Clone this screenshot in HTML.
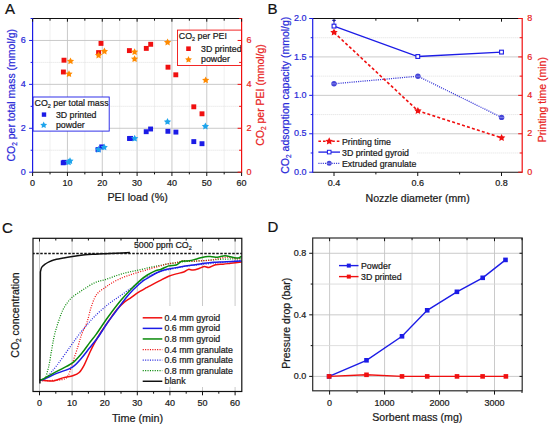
<!DOCTYPE html>
<html><head><meta charset="utf-8"><style>
html,body{margin:0;padding:0;background:#fff;}
svg{display:block;font-family:"Liberation Sans", sans-serif;}
</style></head><body>
<svg width="550" height="427" viewBox="0 0 550 427" font-family='"Liberation Sans", sans-serif'>
<rect width="550" height="427" fill="#fff"/>
<line x1="50.02" y1="18.50" x2="50.02" y2="172.20" stroke="#dcdcdc" stroke-width="0.9" stroke-dasharray="1 1"/>
<line x1="67.43" y1="18.50" x2="67.43" y2="172.20" stroke="#c4c4c4" stroke-width="0.9" />
<line x1="84.85" y1="18.50" x2="84.85" y2="172.20" stroke="#dcdcdc" stroke-width="0.9" stroke-dasharray="1 1"/>
<line x1="102.27" y1="18.50" x2="102.27" y2="172.20" stroke="#c4c4c4" stroke-width="0.9" />
<line x1="119.68" y1="18.50" x2="119.68" y2="172.20" stroke="#dcdcdc" stroke-width="0.9" stroke-dasharray="1 1"/>
<line x1="137.10" y1="18.50" x2="137.10" y2="172.20" stroke="#c4c4c4" stroke-width="0.9" />
<line x1="154.52" y1="18.50" x2="154.52" y2="172.20" stroke="#dcdcdc" stroke-width="0.9" stroke-dasharray="1 1"/>
<line x1="171.93" y1="18.50" x2="171.93" y2="172.20" stroke="#c4c4c4" stroke-width="0.9" />
<line x1="189.35" y1="18.50" x2="189.35" y2="172.20" stroke="#dcdcdc" stroke-width="0.9" stroke-dasharray="1 1"/>
<line x1="206.77" y1="18.50" x2="206.77" y2="172.20" stroke="#c4c4c4" stroke-width="0.9" />
<line x1="224.18" y1="18.50" x2="224.18" y2="172.20" stroke="#dcdcdc" stroke-width="0.9" stroke-dasharray="1 1"/>
<line x1="32.60" y1="150.24" x2="241.60" y2="150.24" stroke="#dcdcdc" stroke-width="0.9" stroke-dasharray="1 1"/>
<line x1="32.60" y1="128.29" x2="241.60" y2="128.29" stroke="#c4c4c4" stroke-width="0.9" />
<line x1="32.60" y1="106.33" x2="241.60" y2="106.33" stroke="#dcdcdc" stroke-width="0.9" stroke-dasharray="1 1"/>
<line x1="32.60" y1="84.37" x2="241.60" y2="84.37" stroke="#c4c4c4" stroke-width="0.9" />
<line x1="32.60" y1="62.41" x2="241.60" y2="62.41" stroke="#dcdcdc" stroke-width="0.9" stroke-dasharray="1 1"/>
<line x1="32.60" y1="40.46" x2="241.60" y2="40.46" stroke="#c4c4c4" stroke-width="0.9" />
<rect x="61.55" y="57.75" width="4.90" height="4.90" fill="#f01010"/>
<rect x="60.95" y="69.55" width="4.90" height="4.90" fill="#f01010"/>
<rect x="98.55" y="40.95" width="4.90" height="4.90" fill="#f01010"/>
<rect x="96.15" y="50.15" width="4.90" height="4.90" fill="#f01010"/>
<rect x="126.95" y="48.15" width="4.90" height="4.90" fill="#f01010"/>
<rect x="143.85" y="45.95" width="4.90" height="4.90" fill="#f01010"/>
<rect x="148.25" y="41.85" width="4.90" height="4.90" fill="#f01010"/>
<rect x="165.55" y="64.75" width="4.90" height="4.90" fill="#f01010"/>
<rect x="173.35" y="72.35" width="4.90" height="4.90" fill="#f01010"/>
<rect x="191.35" y="104.35" width="4.90" height="4.90" fill="#f01010"/>
<rect x="199.55" y="111.35" width="4.90" height="4.90" fill="#f01010"/>
<polygon points="70.50,57.40 71.62,59.66 74.11,60.03 72.31,61.79 72.73,64.27 70.50,63.10 68.27,64.27 68.69,61.79 66.89,60.03 69.38,59.66" fill="#ff8a00"/>
<polygon points="69.00,70.20 70.12,72.46 72.61,72.83 70.81,74.59 71.23,77.07 69.00,75.90 66.77,77.07 67.19,74.59 65.39,72.83 67.88,72.46" fill="#ff8a00"/>
<polygon points="104.40,47.60 105.52,49.86 108.01,50.23 106.21,51.99 106.63,54.47 104.40,53.30 102.17,54.47 102.59,51.99 100.79,50.23 103.28,49.86" fill="#ff8a00"/>
<polygon points="98.60,51.60 99.72,53.86 102.21,54.23 100.41,55.99 100.83,58.47 98.60,57.30 96.37,58.47 96.79,55.99 94.99,54.23 97.48,53.86" fill="#ff8a00"/>
<polygon points="134.60,48.20 135.72,50.46 138.21,50.83 136.41,52.59 136.83,55.07 134.60,53.90 132.37,55.07 132.79,52.59 130.99,50.83 133.48,50.46" fill="#ff8a00"/>
<polygon points="134.60,55.20 135.72,57.46 138.21,57.83 136.41,59.59 136.83,62.07 134.60,60.90 132.37,62.07 132.79,59.59 130.99,57.83 133.48,57.46" fill="#ff8a00"/>
<polygon points="167.60,38.60 168.72,40.86 171.21,41.23 169.41,42.99 169.83,45.47 167.60,44.30 165.37,45.47 165.79,42.99 163.99,41.23 166.48,40.86" fill="#ff8a00"/>
<polygon points="205.70,76.40 206.82,78.66 209.31,79.03 207.51,80.79 207.93,83.27 205.70,82.10 203.47,83.27 203.89,80.79 202.09,79.03 204.58,78.66" fill="#ff8a00"/>
<rect x="60.75" y="160.35" width="4.90" height="4.90" fill="#1c1ce6"/>
<rect x="61.75" y="159.85" width="4.90" height="4.90" fill="#1c1ce6"/>
<rect x="95.55" y="147.15" width="4.90" height="4.90" fill="#1c1ce6"/>
<rect x="99.25" y="144.45" width="4.90" height="4.90" fill="#1c1ce6"/>
<rect x="127.05" y="136.05" width="4.90" height="4.90" fill="#1c1ce6"/>
<rect x="128.15" y="135.95" width="4.90" height="4.90" fill="#1c1ce6"/>
<rect x="143.75" y="129.25" width="4.90" height="4.90" fill="#1c1ce6"/>
<rect x="148.15" y="126.55" width="4.90" height="4.90" fill="#1c1ce6"/>
<rect x="165.45" y="128.85" width="4.90" height="4.90" fill="#1c1ce6"/>
<rect x="173.45" y="129.65" width="4.90" height="4.90" fill="#1c1ce6"/>
<rect x="191.35" y="139.15" width="4.90" height="4.90" fill="#1c1ce6"/>
<rect x="199.55" y="141.25" width="4.90" height="4.90" fill="#1c1ce6"/>
<polygon points="70.00,157.20 71.12,159.46 73.61,159.83 71.81,161.59 72.23,164.07 70.00,162.90 67.77,164.07 68.19,161.59 66.39,159.83 68.88,159.46" fill="#1ea4ec"/>
<polygon points="68.60,158.50 69.72,160.76 72.21,161.13 70.41,162.89 70.83,165.37 68.60,164.20 66.37,165.37 66.79,162.89 64.99,161.13 67.48,160.76" fill="#1ea4ec"/>
<polygon points="98.50,145.80 99.62,148.06 102.11,148.43 100.31,150.19 100.73,152.67 98.50,151.50 96.27,152.67 96.69,150.19 94.89,148.43 97.38,148.06" fill="#1ea4ec"/>
<polygon points="104.20,143.50 105.32,145.76 107.81,146.13 106.01,147.89 106.43,150.37 104.20,149.20 101.97,150.37 102.39,147.89 100.59,146.13 103.08,145.76" fill="#1ea4ec"/>
<polygon points="134.70,134.70 135.82,136.96 138.31,137.33 136.51,139.09 136.93,141.57 134.70,140.40 132.47,141.57 132.89,139.09 131.09,137.33 133.58,136.96" fill="#1ea4ec"/>
<polygon points="167.50,118.00 168.62,120.26 171.11,120.63 169.31,122.39 169.73,124.87 167.50,123.70 165.27,124.87 165.69,122.39 163.89,120.63 166.38,120.26" fill="#1ea4ec"/>
<polygon points="205.40,122.60 206.52,124.86 209.01,125.23 207.21,126.99 207.63,129.47 205.40,128.30 203.17,129.47 203.59,126.99 201.79,125.23 204.28,124.86" fill="#1ea4ec"/>
<rect x="33" y="97" width="76.2" height="34.1" fill="#fff" stroke="#1c1ce6" stroke-width="0.9"/>
<text x="34.60" y="105.80" font-size="8.8" fill="#1a1a1a" stroke="#1a1a1a" stroke-width="0.22" text-anchor="start">CO<tspan font-size="5.46" dy="1.76">2</tspan><tspan dy="-1.76"> per total mass</tspan></text>
<rect x="41.80" y="112.40" width="4.40" height="4.40" fill="#1c1ce6"/>
<text x="55.90" y="118.00" font-size="8.8" fill="#1a1a1a" stroke="#1a1a1a" stroke-width="0.22" text-anchor="start" >3D printed</text>
<polygon points="43.70,121.60 44.76,123.74 47.12,124.09 45.41,125.76 45.82,128.11 43.70,127.00 41.58,128.11 41.99,125.76 40.28,124.09 42.64,123.74" fill="#1ea4ec"/>
<text x="55.90" y="128.20" font-size="8.8" fill="#1a1a1a" stroke="#1a1a1a" stroke-width="0.22" text-anchor="start" >powder</text>
<rect x="177.5" y="30.1" width="64.1" height="35.4" fill="#fff" stroke="#f01010" stroke-width="0.9"/>
<text x="178.80" y="39.00" font-size="8.8" fill="#1a1a1a" stroke="#1a1a1a" stroke-width="0.22" text-anchor="start">CO<tspan font-size="5.46" dy="1.76">2</tspan><tspan dy="-1.76"> per PEI</tspan></text>
<rect x="186.20" y="46.40" width="4.60" height="4.60" fill="#f01010"/>
<text x="201.00" y="51.50" font-size="8.8" fill="#1a1a1a" stroke="#1a1a1a" stroke-width="0.22" text-anchor="start" >3D printed</text>
<polygon points="188.50,56.00 189.56,58.14 191.92,58.49 190.21,60.16 190.62,62.51 188.50,61.40 186.38,62.51 186.79,60.16 185.08,58.49 187.44,58.14" fill="#ff8a00"/>
<text x="201.00" y="61.90" font-size="8.8" fill="#1a1a1a" stroke="#1a1a1a" stroke-width="0.22" text-anchor="start" >powder</text>
<line x1="32.60" y1="18.50" x2="241.60" y2="18.50" stroke="#111" stroke-width="1.1" />
<line x1="32.60" y1="172.20" x2="241.60" y2="172.20" stroke="#111" stroke-width="1.1" />
<line x1="32.60" y1="18.00" x2="32.60" y2="172.70" stroke="#1c1ce6" stroke-width="1.2" />
<line x1="241.60" y1="18.00" x2="241.60" y2="172.70" stroke="#f01010" stroke-width="1.2" />
<line x1="32.60" y1="172.20" x2="32.60" y2="176.00" stroke="#111" stroke-width="1" />
<line x1="32.60" y1="18.50" x2="32.60" y2="21.70" stroke="#111" stroke-width="1" />
<text x="32.60" y="186.00" font-size="9" fill="#1a1a1a" stroke="#1a1a1a" stroke-width="0.22" text-anchor="middle" >0</text>
<line x1="50.02" y1="172.20" x2="50.02" y2="174.40" stroke="#111" stroke-width="1" />
<line x1="50.02" y1="18.50" x2="50.02" y2="20.70" stroke="#111" stroke-width="1" />
<line x1="67.43" y1="172.20" x2="67.43" y2="176.00" stroke="#111" stroke-width="1" />
<line x1="67.43" y1="18.50" x2="67.43" y2="21.70" stroke="#111" stroke-width="1" />
<text x="67.43" y="186.00" font-size="9" fill="#1a1a1a" stroke="#1a1a1a" stroke-width="0.22" text-anchor="middle" >10</text>
<line x1="84.85" y1="172.20" x2="84.85" y2="174.40" stroke="#111" stroke-width="1" />
<line x1="84.85" y1="18.50" x2="84.85" y2="20.70" stroke="#111" stroke-width="1" />
<line x1="102.27" y1="172.20" x2="102.27" y2="176.00" stroke="#111" stroke-width="1" />
<line x1="102.27" y1="18.50" x2="102.27" y2="21.70" stroke="#111" stroke-width="1" />
<text x="102.27" y="186.00" font-size="9" fill="#1a1a1a" stroke="#1a1a1a" stroke-width="0.22" text-anchor="middle" >20</text>
<line x1="119.68" y1="172.20" x2="119.68" y2="174.40" stroke="#111" stroke-width="1" />
<line x1="119.68" y1="18.50" x2="119.68" y2="20.70" stroke="#111" stroke-width="1" />
<line x1="137.10" y1="172.20" x2="137.10" y2="176.00" stroke="#111" stroke-width="1" />
<line x1="137.10" y1="18.50" x2="137.10" y2="21.70" stroke="#111" stroke-width="1" />
<text x="137.10" y="186.00" font-size="9" fill="#1a1a1a" stroke="#1a1a1a" stroke-width="0.22" text-anchor="middle" >30</text>
<line x1="154.52" y1="172.20" x2="154.52" y2="174.40" stroke="#111" stroke-width="1" />
<line x1="154.52" y1="18.50" x2="154.52" y2="20.70" stroke="#111" stroke-width="1" />
<line x1="171.93" y1="172.20" x2="171.93" y2="176.00" stroke="#111" stroke-width="1" />
<line x1="171.93" y1="18.50" x2="171.93" y2="21.70" stroke="#111" stroke-width="1" />
<text x="171.93" y="186.00" font-size="9" fill="#1a1a1a" stroke="#1a1a1a" stroke-width="0.22" text-anchor="middle" >40</text>
<line x1="189.35" y1="172.20" x2="189.35" y2="174.40" stroke="#111" stroke-width="1" />
<line x1="189.35" y1="18.50" x2="189.35" y2="20.70" stroke="#111" stroke-width="1" />
<line x1="206.77" y1="172.20" x2="206.77" y2="176.00" stroke="#111" stroke-width="1" />
<line x1="206.77" y1="18.50" x2="206.77" y2="21.70" stroke="#111" stroke-width="1" />
<text x="206.77" y="186.00" font-size="9" fill="#1a1a1a" stroke="#1a1a1a" stroke-width="0.22" text-anchor="middle" >50</text>
<line x1="224.18" y1="172.20" x2="224.18" y2="174.40" stroke="#111" stroke-width="1" />
<line x1="224.18" y1="18.50" x2="224.18" y2="20.70" stroke="#111" stroke-width="1" />
<line x1="241.60" y1="172.20" x2="241.60" y2="176.00" stroke="#111" stroke-width="1" />
<line x1="241.60" y1="18.50" x2="241.60" y2="21.70" stroke="#111" stroke-width="1" />
<text x="241.60" y="186.00" font-size="9" fill="#1a1a1a" stroke="#1a1a1a" stroke-width="0.22" text-anchor="middle" >60</text>
<line x1="29.10" y1="172.20" x2="32.60" y2="172.20" stroke="#1c1ce6" stroke-width="1" />
<line x1="237.60" y1="172.20" x2="241.60" y2="172.20" stroke="#f01010" stroke-width="1" />
<text x="25.80" y="174.90" font-size="9" fill="#2a2ad8" stroke="#2a2ad8" stroke-width="0.22" text-anchor="end" >0</text>
<text x="246.60" y="174.90" font-size="9" fill="#e82222" stroke="#e82222" stroke-width="0.22" text-anchor="start" >0</text>
<line x1="30.60" y1="150.24" x2="32.60" y2="150.24" stroke="#1c1ce6" stroke-width="1" />
<line x1="239.10" y1="150.24" x2="241.60" y2="150.24" stroke="#f01010" stroke-width="1" />
<line x1="29.10" y1="128.29" x2="32.60" y2="128.29" stroke="#1c1ce6" stroke-width="1" />
<line x1="237.60" y1="128.29" x2="241.60" y2="128.29" stroke="#f01010" stroke-width="1" />
<text x="25.80" y="130.99" font-size="9" fill="#2a2ad8" stroke="#2a2ad8" stroke-width="0.22" text-anchor="end" >2</text>
<text x="246.60" y="130.99" font-size="9" fill="#e82222" stroke="#e82222" stroke-width="0.22" text-anchor="start" >2</text>
<line x1="30.60" y1="106.33" x2="32.60" y2="106.33" stroke="#1c1ce6" stroke-width="1" />
<line x1="239.10" y1="106.33" x2="241.60" y2="106.33" stroke="#f01010" stroke-width="1" />
<line x1="29.10" y1="84.37" x2="32.60" y2="84.37" stroke="#1c1ce6" stroke-width="1" />
<line x1="237.60" y1="84.37" x2="241.60" y2="84.37" stroke="#f01010" stroke-width="1" />
<text x="25.80" y="87.07" font-size="9" fill="#2a2ad8" stroke="#2a2ad8" stroke-width="0.22" text-anchor="end" >4</text>
<text x="246.60" y="87.07" font-size="9" fill="#e82222" stroke="#e82222" stroke-width="0.22" text-anchor="start" >4</text>
<line x1="30.60" y1="62.41" x2="32.60" y2="62.41" stroke="#1c1ce6" stroke-width="1" />
<line x1="239.10" y1="62.41" x2="241.60" y2="62.41" stroke="#f01010" stroke-width="1" />
<line x1="29.10" y1="40.46" x2="32.60" y2="40.46" stroke="#1c1ce6" stroke-width="1" />
<line x1="237.60" y1="40.46" x2="241.60" y2="40.46" stroke="#f01010" stroke-width="1" />
<text x="25.80" y="43.16" font-size="9" fill="#2a2ad8" stroke="#2a2ad8" stroke-width="0.22" text-anchor="end" >6</text>
<text x="246.60" y="43.16" font-size="9" fill="#e82222" stroke="#e82222" stroke-width="0.22" text-anchor="start" >6</text>
<line x1="30.60" y1="18.50" x2="32.60" y2="18.50" stroke="#1c1ce6" stroke-width="1" />
<line x1="239.10" y1="18.50" x2="241.60" y2="18.50" stroke="#f01010" stroke-width="1" />
<text x="137.60" y="201.40" font-size="10.75" fill="#1a1a1a" stroke="#1a1a1a" stroke-width="0.22" text-anchor="middle" >PEI load (%)</text>
<text x="14.90" y="95.30" font-size="10.5" fill="#2a2ad8" stroke="#2a2ad8" stroke-width="0.22" text-anchor="middle" transform="rotate(-90 14.90 95.30)">CO<tspan font-size="6.51" dy="2.10">2</tspan><tspan dy="-2.10"> per total mass (mmol/g)</tspan></text>
<text x="263.60" y="95.00" font-size="10.5" fill="#e82222" stroke="#e82222" stroke-width="0.22" text-anchor="middle" transform="rotate(-90 263.60 95.00)">CO<tspan font-size="6.51" dy="2.10">2</tspan><tspan dy="-2.10"> per PEI (mmol/g)</tspan></text>
<text x="4.90" y="13.70" font-size="15" fill="#111" stroke="#111" stroke-width="0.22" text-anchor="start" >A</text>
<line x1="312.70" y1="152.99" x2="522.20" y2="152.99" stroke="#dcdcdc" stroke-width="0.9" stroke-dasharray="1 1"/>
<line x1="312.70" y1="133.77" x2="522.20" y2="133.77" stroke="#c4c4c4" stroke-width="0.9" />
<line x1="312.70" y1="114.56" x2="522.20" y2="114.56" stroke="#dcdcdc" stroke-width="0.9" stroke-dasharray="1 1"/>
<line x1="312.70" y1="95.35" x2="522.20" y2="95.35" stroke="#c4c4c4" stroke-width="0.9" />
<line x1="312.70" y1="76.14" x2="522.20" y2="76.14" stroke="#dcdcdc" stroke-width="0.9" stroke-dasharray="1 1"/>
<line x1="312.70" y1="56.92" x2="522.20" y2="56.92" stroke="#c4c4c4" stroke-width="0.9" />
<line x1="312.70" y1="37.71" x2="522.20" y2="37.71" stroke="#dcdcdc" stroke-width="0.9" stroke-dasharray="1 1"/>
<polyline points="334,83.8 417.9,76.2 501.6,117.4" fill="none" stroke="#3c3cd8" stroke-width="1.3" stroke-dasharray="1.1 1.1"/>
<circle cx="334" cy="83.8" r="2.7" fill="#4444d8"/>
<line x1="331.70" y1="83.80" x2="336.30" y2="83.80" stroke="#9c9cec" stroke-width="0.7" />
<circle cx="417.9" cy="76.2" r="2.7" fill="#4444d8"/>
<line x1="415.60" y1="76.20" x2="420.20" y2="76.20" stroke="#9c9cec" stroke-width="0.7" />
<circle cx="501.6" cy="117.4" r="2.7" fill="#4444d8"/>
<line x1="499.30" y1="117.40" x2="503.90" y2="117.40" stroke="#9c9cec" stroke-width="0.7" />
<polyline points="334,32.4 417.9,110.8 501.6,137.8" fill="none" stroke="#f01010" stroke-width="1.6" stroke-dasharray="3 2.2"/>
<polygon points="334.00,28.50 335.15,30.82 337.71,31.19 335.85,33.00 336.29,35.56 334.00,34.35 331.71,35.56 332.15,33.00 330.29,31.19 332.85,30.82" fill="#f01010"/>
<polygon points="417.90,106.90 419.05,109.22 421.61,109.59 419.75,111.40 420.19,113.96 417.90,112.75 415.61,113.96 416.05,111.40 414.19,109.59 416.75,109.22" fill="#f01010"/>
<polygon points="501.60,133.90 502.75,136.22 505.31,136.59 503.45,138.40 503.89,140.96 501.60,139.75 499.31,140.96 499.75,138.40 497.89,136.59 500.45,136.22" fill="#f01010"/>
<polyline points="334,26.1 417.8,56.5 501.5,52.1" fill="none" stroke="#1c1ce6" stroke-width="1.3"/>
<line x1="334.00" y1="20.30" x2="334.00" y2="24.00" stroke="#1c1ce6" stroke-width="1" />
<line x1="332.00" y1="20.30" x2="336.00" y2="20.30" stroke="#1c1ce6" stroke-width="1" />
<rect x="332.10" y="24.20" width="3.80" height="3.80" fill="#fff" stroke="#1c1ce6" stroke-width="1.1"/>
<rect x="415.90" y="54.60" width="3.80" height="3.80" fill="#fff" stroke="#1c1ce6" stroke-width="1.1"/>
<rect x="499.60" y="50.20" width="3.80" height="3.80" fill="#fff" stroke="#1c1ce6" stroke-width="1.1"/>
<rect x="314" y="136.3" width="103" height="33.5" fill="#fff"/>
<line x1="318.40" y1="141.30" x2="340.00" y2="141.30" stroke="#f01010" stroke-width="1.5" stroke-dasharray="2.6 2"/>
<polygon points="329.20,137.30 330.38,139.68 333.00,140.06 331.10,141.92 331.55,144.54 329.20,143.30 326.85,144.54 327.30,141.92 325.40,140.06 328.02,139.68" fill="#f01010"/>
<text x="342.00" y="145.00" font-size="8.8" fill="#1a1a1a" stroke="#1a1a1a" stroke-width="0.22" text-anchor="start" >Printing time</text>
<line x1="318.40" y1="152.10" x2="340.00" y2="152.10" stroke="#1c1ce6" stroke-width="1.3" />
<rect x="327.40" y="150.30" width="3.60" height="3.60" fill="#fff" stroke="#1c1ce6" stroke-width="1"/>
<text x="342.00" y="155.60" font-size="8.8" fill="#1a1a1a" stroke="#1a1a1a" stroke-width="0.22" text-anchor="start" >3D printed gyroid</text>
<line x1="318.40" y1="163.30" x2="340.00" y2="163.30" stroke="#3c3cd8" stroke-width="1.3" stroke-dasharray="1.1 1.1"/>
<circle cx="329.2" cy="163.3" r="2.5" fill="#4444d8"/>
<line x1="327.00" y1="163.30" x2="331.40" y2="163.30" stroke="#9c9cec" stroke-width="0.7" />
<text x="342.00" y="166.80" font-size="8.8" fill="#1a1a1a" stroke="#1a1a1a" stroke-width="0.22" text-anchor="start" >Extruded granulate</text>
<line x1="312.70" y1="18.50" x2="522.20" y2="18.50" stroke="#111" stroke-width="1.1" />
<line x1="312.70" y1="172.20" x2="522.20" y2="172.20" stroke="#111" stroke-width="1.1" />
<line x1="312.70" y1="18.00" x2="312.70" y2="172.70" stroke="#1c1ce6" stroke-width="1.2" />
<line x1="522.20" y1="18.00" x2="522.20" y2="172.70" stroke="#f01010" stroke-width="1.2" />
<line x1="334.00" y1="172.20" x2="334.00" y2="176.00" stroke="#111" stroke-width="1" />
<line x1="334.00" y1="18.50" x2="334.00" y2="21.70" stroke="#111" stroke-width="1" />
<text x="334.00" y="186.00" font-size="9" fill="#1a1a1a" stroke="#1a1a1a" stroke-width="0.22" text-anchor="middle" >0.4</text>
<line x1="375.88" y1="172.20" x2="375.88" y2="174.40" stroke="#111" stroke-width="1" />
<line x1="375.88" y1="18.50" x2="375.88" y2="20.70" stroke="#111" stroke-width="1" />
<line x1="417.75" y1="172.20" x2="417.75" y2="176.00" stroke="#111" stroke-width="1" />
<line x1="417.75" y1="18.50" x2="417.75" y2="21.70" stroke="#111" stroke-width="1" />
<text x="417.75" y="186.00" font-size="9" fill="#1a1a1a" stroke="#1a1a1a" stroke-width="0.22" text-anchor="middle" >0.6</text>
<line x1="459.62" y1="172.20" x2="459.62" y2="174.40" stroke="#111" stroke-width="1" />
<line x1="459.62" y1="18.50" x2="459.62" y2="20.70" stroke="#111" stroke-width="1" />
<line x1="501.50" y1="172.20" x2="501.50" y2="176.00" stroke="#111" stroke-width="1" />
<line x1="501.50" y1="18.50" x2="501.50" y2="21.70" stroke="#111" stroke-width="1" />
<text x="501.50" y="186.00" font-size="9" fill="#1a1a1a" stroke="#1a1a1a" stroke-width="0.22" text-anchor="middle" >0.8</text>
<line x1="309.20" y1="172.20" x2="312.70" y2="172.20" stroke="#1c1ce6" stroke-width="1" />
<text x="306.40" y="174.90" font-size="9" fill="#2a2ad8" stroke="#2a2ad8" stroke-width="0.22" text-anchor="end" >0.0</text>
<line x1="310.70" y1="152.99" x2="312.70" y2="152.99" stroke="#1c1ce6" stroke-width="1" />
<line x1="309.20" y1="133.77" x2="312.70" y2="133.77" stroke="#1c1ce6" stroke-width="1" />
<text x="306.40" y="136.47" font-size="9" fill="#2a2ad8" stroke="#2a2ad8" stroke-width="0.22" text-anchor="end" >0.5</text>
<line x1="310.70" y1="114.56" x2="312.70" y2="114.56" stroke="#1c1ce6" stroke-width="1" />
<line x1="309.20" y1="95.35" x2="312.70" y2="95.35" stroke="#1c1ce6" stroke-width="1" />
<text x="306.40" y="98.05" font-size="9" fill="#2a2ad8" stroke="#2a2ad8" stroke-width="0.22" text-anchor="end" >1.0</text>
<line x1="310.70" y1="76.14" x2="312.70" y2="76.14" stroke="#1c1ce6" stroke-width="1" />
<line x1="309.20" y1="56.92" x2="312.70" y2="56.92" stroke="#1c1ce6" stroke-width="1" />
<text x="306.40" y="59.62" font-size="9" fill="#2a2ad8" stroke="#2a2ad8" stroke-width="0.22" text-anchor="end" >1.5</text>
<line x1="310.70" y1="37.71" x2="312.70" y2="37.71" stroke="#1c1ce6" stroke-width="1" />
<line x1="309.20" y1="18.50" x2="312.70" y2="18.50" stroke="#1c1ce6" stroke-width="1" />
<text x="306.40" y="21.20" font-size="9" fill="#2a2ad8" stroke="#2a2ad8" stroke-width="0.22" text-anchor="end" >2.0</text>
<line x1="518.20" y1="172.20" x2="522.20" y2="172.20" stroke="#f01010" stroke-width="1" />
<text x="527.20" y="174.90" font-size="9" fill="#e82222" stroke="#e82222" stroke-width="0.22" text-anchor="start" >0</text>
<line x1="519.70" y1="152.99" x2="522.20" y2="152.99" stroke="#f01010" stroke-width="1" />
<line x1="518.20" y1="133.77" x2="522.20" y2="133.77" stroke="#f01010" stroke-width="1" />
<text x="527.20" y="136.47" font-size="9" fill="#e82222" stroke="#e82222" stroke-width="0.22" text-anchor="start" >2</text>
<line x1="519.70" y1="114.56" x2="522.20" y2="114.56" stroke="#f01010" stroke-width="1" />
<line x1="518.20" y1="95.35" x2="522.20" y2="95.35" stroke="#f01010" stroke-width="1" />
<text x="527.20" y="98.05" font-size="9" fill="#e82222" stroke="#e82222" stroke-width="0.22" text-anchor="start" >4</text>
<line x1="519.70" y1="76.14" x2="522.20" y2="76.14" stroke="#f01010" stroke-width="1" />
<line x1="518.20" y1="56.92" x2="522.20" y2="56.92" stroke="#f01010" stroke-width="1" />
<text x="527.20" y="59.62" font-size="9" fill="#e82222" stroke="#e82222" stroke-width="0.22" text-anchor="start" >6</text>
<line x1="519.70" y1="37.71" x2="522.20" y2="37.71" stroke="#f01010" stroke-width="1" />
<line x1="518.20" y1="18.50" x2="522.20" y2="18.50" stroke="#f01010" stroke-width="1" />
<text x="527.20" y="21.20" font-size="9" fill="#e82222" stroke="#e82222" stroke-width="0.22" text-anchor="start" >8</text>
<text x="417.60" y="201.80" font-size="10.6" fill="#1a1a1a" stroke="#1a1a1a" stroke-width="0.22" text-anchor="middle" >Nozzle diameter (mm)</text>
<text x="289.40" y="95.20" font-size="10.5" fill="#2a2ad8" stroke="#2a2ad8" stroke-width="0.22" text-anchor="middle" transform="rotate(-90 289.40 95.20)">CO<tspan font-size="6.51" dy="2.10">2</tspan><tspan dy="-2.10"> adsorption capacity (mmol/g)</tspan></text>
<text x="546.30" y="99.70" font-size="10.5" fill="#e82222" stroke="#e82222" stroke-width="0.22" text-anchor="middle" transform="rotate(-90 546.30 99.70)" >Printing time (min)</text>
<text x="267.60" y="13.70" font-size="15" fill="#111" stroke="#111" stroke-width="0.22" text-anchor="start" >B</text>
<line x1="39.50" y1="238.30" x2="39.50" y2="391.50" stroke="#c4c4c4" stroke-width="0.9" />
<line x1="72.10" y1="238.30" x2="72.10" y2="391.50" stroke="#c4c4c4" stroke-width="0.9" />
<line x1="104.70" y1="238.30" x2="104.70" y2="391.50" stroke="#c4c4c4" stroke-width="0.9" />
<line x1="137.30" y1="238.30" x2="137.30" y2="391.50" stroke="#c4c4c4" stroke-width="0.9" />
<line x1="169.90" y1="238.30" x2="169.90" y2="391.50" stroke="#c4c4c4" stroke-width="0.9" />
<line x1="202.50" y1="238.30" x2="202.50" y2="391.50" stroke="#c4c4c4" stroke-width="0.9" />
<line x1="235.10" y1="238.30" x2="235.10" y2="391.50" stroke="#c4c4c4" stroke-width="0.9" />
<path d="M39.90,380.20 C40.42,380.07 42.03,379.93 43.00,379.40 C43.97,378.87 44.90,378.57 45.70,377.00 C46.50,375.43 47.15,372.47 47.80,370.00 C48.45,367.53 48.87,366.08 49.60,362.20 C50.33,358.32 51.35,351.38 52.20,346.70 C53.05,342.02 53.63,338.35 54.70,334.10 C55.77,329.85 57.10,325.50 58.60,321.20 C60.10,316.90 61.55,312.17 63.70,308.30 C65.85,304.43 68.27,301.10 71.50,298.00 C74.73,294.90 79.18,292.27 83.10,289.70 C87.02,287.13 91.20,284.32 95.00,282.60 C98.80,280.88 102.27,280.58 105.90,279.40 C109.53,278.22 113.17,276.68 116.80,275.50 C120.43,274.32 124.07,273.20 127.70,272.30 C131.33,271.40 134.88,270.92 138.60,270.10 C142.32,269.28 146.53,268.17 150.00,267.40 C153.47,266.63 156.28,266.10 159.40,265.50 C162.52,264.90 164.93,264.42 168.70,263.80 C172.47,263.18 177.62,262.23 182.00,261.80 C186.38,261.37 190.50,261.47 195.00,261.20 C199.50,260.93 204.33,260.53 209.00,260.20 C213.67,259.87 217.58,259.43 223.00,259.20 C228.42,258.97 238.42,258.87 241.50,258.80" fill="none" stroke="#0a8a0a" stroke-width="1.25" stroke-dasharray="1 1.4"/>
<path d="M39.90,380.20 C40.65,380.27 41.50,380.60 44.40,380.60 C47.30,380.60 53.95,380.47 57.30,380.20 C60.65,379.93 62.80,379.62 64.50,379.00 C66.20,378.38 66.67,377.58 67.50,376.50 C68.33,375.42 68.62,374.88 69.50,372.50 C70.38,370.12 71.40,366.50 72.80,362.20 C74.20,357.90 76.40,351.38 77.90,346.70 C79.40,342.02 80.30,338.13 81.80,334.10 C83.30,330.07 85.40,326.80 86.90,322.50 C88.40,318.20 89.52,312.38 90.80,308.30 C92.08,304.22 93.32,300.67 94.60,298.00 C95.88,295.33 96.72,294.05 98.50,292.30 C100.28,290.55 103.15,289.02 105.30,287.50 C107.45,285.98 108.57,284.83 111.40,283.20 C114.23,281.57 118.67,279.25 122.30,277.70 C125.93,276.15 129.57,275.08 133.20,273.90 C136.83,272.72 141.30,271.45 144.10,270.60 C146.90,269.75 147.45,269.53 150.00,268.80 C152.55,268.07 156.28,267.07 159.40,266.20 C162.52,265.33 165.90,264.17 168.70,263.60 C171.50,263.03 173.85,263.30 176.20,262.80 C178.55,262.30 180.15,260.87 182.80,260.60 C185.45,260.33 189.30,261.17 192.10,261.20 C194.90,261.23 196.78,260.93 199.60,260.80 C202.42,260.67 205.87,260.77 209.00,260.40 C212.13,260.03 215.27,259.13 218.40,258.60 C221.53,258.07 224.68,257.17 227.80,257.20 C230.92,257.23 234.82,258.65 237.10,258.80 C239.38,258.95 240.77,258.22 241.50,258.10" fill="none" stroke="#f01010" stroke-width="1.25" stroke-dasharray="1 1.4"/>
<path d="M39.90,380.20 C40.42,380.03 41.82,379.73 43.00,379.20 C44.18,378.67 44.62,379.40 47.00,377.00 C49.38,374.60 53.43,369.85 57.30,364.80 C61.17,359.75 66.58,351.75 70.20,346.70 C73.82,341.65 76.22,338.12 79.00,334.50 C81.78,330.88 84.23,328.08 86.90,325.00 C89.57,321.92 91.50,319.42 95.00,316.00 C98.50,312.58 103.62,307.92 107.90,304.50 C112.18,301.08 116.42,298.52 120.70,295.50 C124.98,292.48 129.73,289.07 133.60,286.40 C137.47,283.73 141.17,281.32 143.90,279.50 C146.63,277.68 147.42,276.83 150.00,275.50 C152.58,274.17 156.28,272.48 159.40,271.50 C162.52,270.52 165.60,270.25 168.70,269.60 C171.80,268.95 174.87,268.22 178.00,267.60 C181.13,266.98 184.37,266.33 187.50,265.90 C190.63,265.47 193.05,265.38 196.80,265.00 C200.55,264.62 205.30,264.10 210.00,263.60 C214.70,263.10 219.75,262.50 225.00,262.00 C230.25,261.50 238.75,260.83 241.50,260.60" fill="none" stroke="#2a2ae0" stroke-width="1.25" stroke-dasharray="1 1.4"/>
<path d="M39.90,380.20 C40.65,380.23 42.13,380.28 44.40,380.40 C46.67,380.52 50.28,381.37 53.50,380.90 C56.72,380.43 60.48,378.47 63.70,377.60 C66.92,376.73 70.22,376.55 72.80,375.70 C75.38,374.85 77.28,374.32 79.20,372.50 C81.12,370.68 82.58,368.02 84.30,364.80 C86.02,361.58 87.78,356.85 89.50,353.20 C91.22,349.55 92.62,346.52 94.60,342.90 C96.58,339.28 99.00,335.23 101.40,331.50 C103.80,327.77 106.42,324.15 109.00,320.50 C111.58,316.85 114.30,312.70 116.90,309.60 C119.50,306.50 122.25,303.90 124.60,301.90 C126.95,299.90 128.85,299.10 131.00,297.60 C133.15,296.10 134.92,294.55 137.50,292.90 C140.08,291.25 144.42,288.88 146.50,287.70 C148.58,286.52 147.85,286.93 150.00,285.80 C152.15,284.67 156.28,282.50 159.40,280.90 C162.52,279.30 165.90,277.37 168.70,276.20 C171.50,275.03 173.70,274.60 176.20,273.90 C178.70,273.20 181.67,272.75 183.70,272.00 C185.73,271.25 186.83,269.72 188.40,269.40 C189.97,269.08 191.23,270.28 193.10,270.10 C194.97,269.92 197.72,268.90 199.60,268.30 C201.48,267.70 202.83,266.63 204.40,266.50 C205.97,266.37 207.13,267.80 209.00,267.50 C210.87,267.20 213.25,265.25 215.60,264.70 C217.95,264.15 220.60,264.43 223.10,264.20 C225.60,263.97 227.53,263.68 230.60,263.30 C233.67,262.92 239.68,262.13 241.50,261.90" fill="none" stroke="#f01010" stroke-width="1.5"/>
<path d="M39.90,380.20 C40.65,380.00 41.50,380.18 44.40,379.00 C47.30,377.82 52.68,375.05 57.30,373.10 C61.92,371.15 68.02,369.87 72.10,367.30 C76.18,364.73 78.90,360.92 81.80,357.70 C84.70,354.48 86.80,351.42 89.50,348.00 C92.20,344.58 95.08,341.28 98.00,337.20 C100.92,333.12 104.28,327.45 107.00,323.50 C109.72,319.55 111.15,317.75 114.30,313.50 C117.45,309.25 122.75,301.97 125.90,298.00 C129.05,294.03 130.35,292.53 133.20,289.70 C136.05,286.87 140.20,283.17 143.00,281.00 C145.80,278.83 147.58,278.12 150.00,276.70 C152.42,275.28 155.00,273.67 157.50,272.50 C160.00,271.33 162.50,270.40 165.00,269.70 C167.50,269.00 170.00,268.77 172.50,268.30 C175.00,267.83 177.20,267.38 180.00,266.90 C182.80,266.42 186.50,265.80 189.30,265.40 C192.10,265.00 194.28,264.85 196.80,264.50 C199.32,264.15 201.58,263.67 204.40,263.30 C207.22,262.93 210.58,262.53 213.70,262.30 C216.82,262.07 219.97,262.05 223.10,261.90 C226.23,261.75 229.43,261.57 232.50,261.40 C235.57,261.23 240.00,260.98 241.50,260.90" fill="none" stroke="#1c1ce6" stroke-width="1.5"/>
<path d="M39.90,380.20 C40.65,379.88 41.50,379.80 44.40,378.30 C47.30,376.80 52.68,373.72 57.30,371.20 C61.92,368.68 68.02,366.20 72.10,363.20 C76.18,360.20 78.90,356.58 81.80,353.20 C84.70,349.82 87.08,346.08 89.50,342.90 C91.92,339.72 93.23,338.37 96.30,334.10 C99.37,329.83 103.83,322.88 107.90,317.30 C111.97,311.72 116.85,305.28 120.70,300.60 C124.55,295.92 127.65,292.65 131.00,289.20 C134.35,285.75 138.07,282.27 140.80,279.90 C143.53,277.53 145.08,276.47 147.40,275.00 C149.72,273.53 152.40,272.07 154.70,271.10 C157.00,270.13 158.87,270.07 161.20,269.20 C163.53,268.33 166.20,266.60 168.70,265.90 C171.20,265.20 174.02,265.78 176.20,265.00 C178.38,264.22 179.62,261.90 181.80,261.20 C183.98,260.50 186.80,261.18 189.30,260.80 C191.80,260.42 194.13,259.58 196.80,258.90 C199.47,258.22 202.78,257.07 205.30,256.70 C207.82,256.33 209.87,256.62 211.90,256.70 C213.93,256.78 215.32,257.35 217.50,257.20 C219.68,257.05 222.50,255.80 225.00,255.80 C227.50,255.80 230.32,256.82 232.50,257.20 C234.68,257.58 236.60,258.27 238.10,258.10 C239.60,257.93 240.93,256.52 241.50,256.20" fill="none" stroke="#0a8a0a" stroke-width="1.5"/>
<path d="M39.9,383.5 L40.2,330 L40.4,274 L40.40,272.00 C40.60,271.25 40.93,268.72 41.60,267.50 C42.27,266.28 43.17,265.63 44.40,264.70 C45.63,263.77 47.45,262.68 49.00,261.90 C50.55,261.12 51.35,260.63 53.70,260.00 C56.05,259.37 59.97,258.70 63.10,258.10 C66.23,257.50 68.85,256.95 72.50,256.40 C76.15,255.85 81.25,255.17 85.00,254.80 C88.75,254.43 91.52,254.38 95.00,254.20 C98.48,254.02 102.27,253.87 105.90,253.70 C109.53,253.53 112.80,253.38 116.80,253.20 C120.80,253.02 127.72,252.70 129.90,252.60" fill="none" stroke="#111" stroke-width="1.5"/>
<line x1="33.00" y1="253.50" x2="241.80" y2="253.50" stroke="#111" stroke-width="1.4" stroke-dasharray="2.5 1.5" stroke-dashoffset="0.75"/>
<text x="133.90" y="247.90" font-size="8.8" fill="#1a1a1a" stroke="#1a1a1a" stroke-width="0.22" text-anchor="start">5000 ppm CO<tspan font-size="5.46" dy="1.76">2</tspan><tspan dy="-1.76"></tspan></text>
<rect x="140.5" y="306" width="96" height="81" fill="#fff"/>
<line x1="142.70" y1="317.80" x2="162.30" y2="317.80" stroke="#f01010" stroke-width="1.5" />
<text x="164.50" y="320.90" font-size="8.8" fill="#1a1a1a" stroke="#1a1a1a" stroke-width="0.22" text-anchor="start" >0.4 mm gyroid</text>
<line x1="142.70" y1="328.38" x2="162.30" y2="328.38" stroke="#1c1ce6" stroke-width="1.5" />
<text x="164.50" y="331.48" font-size="8.8" fill="#1a1a1a" stroke="#1a1a1a" stroke-width="0.22" text-anchor="start" >0.6 mm gyroid</text>
<line x1="142.70" y1="338.96" x2="162.30" y2="338.96" stroke="#0a8a0a" stroke-width="1.5" />
<text x="164.50" y="342.06" font-size="8.8" fill="#1a1a1a" stroke="#1a1a1a" stroke-width="0.22" text-anchor="start" >0.8 mm gyroid</text>
<line x1="142.70" y1="349.54" x2="162.30" y2="349.54" stroke="#f01010" stroke-width="1.3" stroke-dasharray="1.1 1.3"/>
<text x="164.50" y="352.64" font-size="8.8" fill="#1a1a1a" stroke="#1a1a1a" stroke-width="0.22" text-anchor="start" >0.4 mm granulate</text>
<line x1="142.70" y1="360.12" x2="162.30" y2="360.12" stroke="#2a2ae0" stroke-width="1.3" stroke-dasharray="1.1 1.3"/>
<text x="164.50" y="363.22" font-size="8.8" fill="#1a1a1a" stroke="#1a1a1a" stroke-width="0.22" text-anchor="start" >0.6 mm granulate</text>
<line x1="142.70" y1="370.70" x2="162.30" y2="370.70" stroke="#0a8a0a" stroke-width="1.3" stroke-dasharray="1.1 1.3"/>
<text x="164.50" y="373.80" font-size="8.8" fill="#1a1a1a" stroke="#1a1a1a" stroke-width="0.22" text-anchor="start" >0.8 mm granulate</text>
<line x1="142.70" y1="381.28" x2="162.30" y2="381.28" stroke="#111" stroke-width="1.5" />
<text x="164.50" y="384.38" font-size="8.8" fill="#1a1a1a" stroke="#1a1a1a" stroke-width="0.22" text-anchor="start" >blank</text>
<rect x="33" y="238.3" width="208.8" height="153.2" fill="none" stroke="#111" stroke-width="1.2"/>
<line x1="39.50" y1="391.50" x2="39.50" y2="395.30" stroke="#111" stroke-width="1" />
<line x1="39.50" y1="238.30" x2="39.50" y2="241.50" stroke="#111" stroke-width="1" />
<text x="39.50" y="405.80" font-size="9" fill="#1a1a1a" stroke="#1a1a1a" stroke-width="0.22" text-anchor="middle" >0</text>
<line x1="55.80" y1="391.50" x2="55.80" y2="393.70" stroke="#111" stroke-width="1" />
<line x1="55.80" y1="238.30" x2="55.80" y2="240.50" stroke="#111" stroke-width="1" />
<line x1="72.10" y1="391.50" x2="72.10" y2="395.30" stroke="#111" stroke-width="1" />
<line x1="72.10" y1="238.30" x2="72.10" y2="241.50" stroke="#111" stroke-width="1" />
<text x="72.10" y="405.80" font-size="9" fill="#1a1a1a" stroke="#1a1a1a" stroke-width="0.22" text-anchor="middle" >10</text>
<line x1="88.40" y1="391.50" x2="88.40" y2="393.70" stroke="#111" stroke-width="1" />
<line x1="88.40" y1="238.30" x2="88.40" y2="240.50" stroke="#111" stroke-width="1" />
<line x1="104.70" y1="391.50" x2="104.70" y2="395.30" stroke="#111" stroke-width="1" />
<line x1="104.70" y1="238.30" x2="104.70" y2="241.50" stroke="#111" stroke-width="1" />
<text x="104.70" y="405.80" font-size="9" fill="#1a1a1a" stroke="#1a1a1a" stroke-width="0.22" text-anchor="middle" >20</text>
<line x1="121.00" y1="391.50" x2="121.00" y2="393.70" stroke="#111" stroke-width="1" />
<line x1="121.00" y1="238.30" x2="121.00" y2="240.50" stroke="#111" stroke-width="1" />
<line x1="137.30" y1="391.50" x2="137.30" y2="395.30" stroke="#111" stroke-width="1" />
<line x1="137.30" y1="238.30" x2="137.30" y2="241.50" stroke="#111" stroke-width="1" />
<text x="137.30" y="405.80" font-size="9" fill="#1a1a1a" stroke="#1a1a1a" stroke-width="0.22" text-anchor="middle" >30</text>
<line x1="153.60" y1="391.50" x2="153.60" y2="393.70" stroke="#111" stroke-width="1" />
<line x1="153.60" y1="238.30" x2="153.60" y2="240.50" stroke="#111" stroke-width="1" />
<line x1="169.90" y1="391.50" x2="169.90" y2="395.30" stroke="#111" stroke-width="1" />
<line x1="169.90" y1="238.30" x2="169.90" y2="241.50" stroke="#111" stroke-width="1" />
<text x="169.90" y="405.80" font-size="9" fill="#1a1a1a" stroke="#1a1a1a" stroke-width="0.22" text-anchor="middle" >40</text>
<line x1="186.20" y1="391.50" x2="186.20" y2="393.70" stroke="#111" stroke-width="1" />
<line x1="186.20" y1="238.30" x2="186.20" y2="240.50" stroke="#111" stroke-width="1" />
<line x1="202.50" y1="391.50" x2="202.50" y2="395.30" stroke="#111" stroke-width="1" />
<line x1="202.50" y1="238.30" x2="202.50" y2="241.50" stroke="#111" stroke-width="1" />
<text x="202.50" y="405.80" font-size="9" fill="#1a1a1a" stroke="#1a1a1a" stroke-width="0.22" text-anchor="middle" >50</text>
<line x1="218.80" y1="391.50" x2="218.80" y2="393.70" stroke="#111" stroke-width="1" />
<line x1="218.80" y1="238.30" x2="218.80" y2="240.50" stroke="#111" stroke-width="1" />
<line x1="235.10" y1="391.50" x2="235.10" y2="395.30" stroke="#111" stroke-width="1" />
<line x1="235.10" y1="238.30" x2="235.10" y2="241.50" stroke="#111" stroke-width="1" />
<text x="235.10" y="405.80" font-size="9" fill="#1a1a1a" stroke="#1a1a1a" stroke-width="0.22" text-anchor="middle" >60</text>
<text x="137.50" y="421.50" font-size="10.8" fill="#1a1a1a" stroke="#1a1a1a" stroke-width="0.22" text-anchor="middle" >Time (min)</text>
<text x="19.20" y="315.00" font-size="10.5" fill="#1a1a1a" stroke="#1a1a1a" stroke-width="0.22" text-anchor="middle" transform="rotate(-90 19.20 315.00)">CO<tspan font-size="6.51" dy="2.10">2</tspan><tspan dy="-2.10"> concentration</tspan></text>
<text x="2.00" y="232.50" font-size="15" fill="#111" stroke="#111" stroke-width="0.22" text-anchor="start" >C</text>
<line x1="357.09" y1="238.00" x2="357.09" y2="390.80" stroke="#dadada" stroke-width="0.9" />
<line x1="384.57" y1="238.00" x2="384.57" y2="390.80" stroke="#c4c4c4" stroke-width="0.9" />
<line x1="412.06" y1="238.00" x2="412.06" y2="390.80" stroke="#dadada" stroke-width="0.9" />
<line x1="439.54" y1="238.00" x2="439.54" y2="390.80" stroke="#c4c4c4" stroke-width="0.9" />
<line x1="467.02" y1="238.00" x2="467.02" y2="390.80" stroke="#dadada" stroke-width="0.9" />
<line x1="494.51" y1="238.00" x2="494.51" y2="390.80" stroke="#c4c4c4" stroke-width="0.9" />
<line x1="329.60" y1="238.00" x2="329.60" y2="390.80" stroke="#c4c4c4" stroke-width="0.9" />
<line x1="312.70" y1="376.40" x2="522.20" y2="376.40" stroke="#c4c4c4" stroke-width="0.9" />
<line x1="312.70" y1="345.62" x2="522.20" y2="345.62" stroke="#dadada" stroke-width="0.9" />
<line x1="312.70" y1="314.84" x2="522.20" y2="314.84" stroke="#c4c4c4" stroke-width="0.9" />
<line x1="312.70" y1="284.06" x2="522.20" y2="284.06" stroke="#dadada" stroke-width="0.9" />
<line x1="312.70" y1="253.28" x2="522.20" y2="253.28" stroke="#c4c4c4" stroke-width="0.9" />
<polyline points="329.1,376.4 366.5,360.3 402,336.3 427.2,310.3 456.9,291.8 482.7,277.8 505.5,259.9" fill="none" stroke="#1c1ce6" stroke-width="1.4"/>
<rect x="326.80" y="374.10" width="4.60" height="4.60" fill="#1c1ce6"/>
<rect x="364.20" y="358.00" width="4.60" height="4.60" fill="#1c1ce6"/>
<rect x="399.70" y="334.00" width="4.60" height="4.60" fill="#1c1ce6"/>
<rect x="424.90" y="308.00" width="4.60" height="4.60" fill="#1c1ce6"/>
<rect x="454.60" y="289.50" width="4.60" height="4.60" fill="#1c1ce6"/>
<rect x="480.40" y="275.50" width="4.60" height="4.60" fill="#1c1ce6"/>
<rect x="503.20" y="257.60" width="4.60" height="4.60" fill="#1c1ce6"/>
<polyline points="329.1,376.4 366.5,374.8 402,376.4 427.2,376.4 457,376.4 482.6,376.4 505.9,376.4" fill="none" stroke="#f01010" stroke-width="1.4"/>
<rect x="326.80" y="374.10" width="4.60" height="4.60" fill="#f01010"/>
<rect x="364.20" y="372.50" width="4.60" height="4.60" fill="#f01010"/>
<rect x="399.70" y="374.10" width="4.60" height="4.60" fill="#f01010"/>
<rect x="424.90" y="374.10" width="4.60" height="4.60" fill="#f01010"/>
<rect x="454.70" y="374.10" width="4.60" height="4.60" fill="#f01010"/>
<rect x="480.30" y="374.10" width="4.60" height="4.60" fill="#f01010"/>
<rect x="503.60" y="374.10" width="4.60" height="4.60" fill="#f01010"/>
<line x1="339.00" y1="265.60" x2="358.50" y2="265.60" stroke="#1c1ce6" stroke-width="1.4" />
<rect x="346.80" y="263.60" width="4.00" height="4.00" fill="#1c1ce6"/>
<text x="361.00" y="268.80" font-size="8.8" fill="#1a1a1a" stroke="#1a1a1a" stroke-width="0.22" text-anchor="start" >Powder</text>
<line x1="339.00" y1="276.60" x2="358.50" y2="276.60" stroke="#f01010" stroke-width="1.4" />
<rect x="346.80" y="274.60" width="4.00" height="4.00" fill="#f01010"/>
<text x="361.00" y="279.80" font-size="8.8" fill="#1a1a1a" stroke="#1a1a1a" stroke-width="0.22" text-anchor="start" >3D printed</text>
<rect x="312.7" y="238.0" width="209.50000000000006" height="152.8" fill="none" stroke="#2a2a2a" stroke-width="1.2"/>
<line x1="329.60" y1="390.80" x2="329.60" y2="394.60" stroke="#111" stroke-width="1" />
<line x1="329.60" y1="238.00" x2="329.60" y2="241.20" stroke="#111" stroke-width="1" />
<text x="329.60" y="405.80" font-size="9" fill="#1a1a1a" stroke="#1a1a1a" stroke-width="0.22" text-anchor="middle" >0</text>
<line x1="357.09" y1="390.80" x2="357.09" y2="393.00" stroke="#111" stroke-width="1" />
<line x1="357.09" y1="238.00" x2="357.09" y2="240.20" stroke="#111" stroke-width="1" />
<line x1="384.57" y1="390.80" x2="384.57" y2="394.60" stroke="#111" stroke-width="1" />
<line x1="384.57" y1="238.00" x2="384.57" y2="241.20" stroke="#111" stroke-width="1" />
<text x="384.57" y="405.80" font-size="9" fill="#1a1a1a" stroke="#1a1a1a" stroke-width="0.22" text-anchor="middle" >1000</text>
<line x1="412.06" y1="390.80" x2="412.06" y2="393.00" stroke="#111" stroke-width="1" />
<line x1="412.06" y1="238.00" x2="412.06" y2="240.20" stroke="#111" stroke-width="1" />
<line x1="439.54" y1="390.80" x2="439.54" y2="394.60" stroke="#111" stroke-width="1" />
<line x1="439.54" y1="238.00" x2="439.54" y2="241.20" stroke="#111" stroke-width="1" />
<text x="439.54" y="405.80" font-size="9" fill="#1a1a1a" stroke="#1a1a1a" stroke-width="0.22" text-anchor="middle" >2000</text>
<line x1="467.02" y1="390.80" x2="467.02" y2="393.00" stroke="#111" stroke-width="1" />
<line x1="467.02" y1="238.00" x2="467.02" y2="240.20" stroke="#111" stroke-width="1" />
<line x1="494.51" y1="390.80" x2="494.51" y2="394.60" stroke="#111" stroke-width="1" />
<line x1="494.51" y1="238.00" x2="494.51" y2="241.20" stroke="#111" stroke-width="1" />
<text x="494.51" y="405.80" font-size="9" fill="#1a1a1a" stroke="#1a1a1a" stroke-width="0.22" text-anchor="middle" >3000</text>
<line x1="522.00" y1="390.80" x2="522.00" y2="393.00" stroke="#111" stroke-width="1" />
<line x1="522.00" y1="238.00" x2="522.00" y2="240.20" stroke="#111" stroke-width="1" />
<line x1="309.20" y1="376.40" x2="312.70" y2="376.40" stroke="#111" stroke-width="1" />
<line x1="519.50" y1="376.40" x2="522.20" y2="376.40" stroke="#111" stroke-width="1" />
<text x="306.20" y="379.10" font-size="9" fill="#1a1a1a" stroke="#1a1a1a" stroke-width="0.22" text-anchor="end" >0.0</text>
<line x1="310.70" y1="345.62" x2="312.70" y2="345.62" stroke="#111" stroke-width="1" />
<line x1="521.00" y1="345.62" x2="522.20" y2="345.62" stroke="#111" stroke-width="1" />
<line x1="309.20" y1="314.84" x2="312.70" y2="314.84" stroke="#111" stroke-width="1" />
<line x1="519.50" y1="314.84" x2="522.20" y2="314.84" stroke="#111" stroke-width="1" />
<text x="306.20" y="317.54" font-size="9" fill="#1a1a1a" stroke="#1a1a1a" stroke-width="0.22" text-anchor="end" >0.4</text>
<line x1="310.70" y1="284.06" x2="312.70" y2="284.06" stroke="#111" stroke-width="1" />
<line x1="521.00" y1="284.06" x2="522.20" y2="284.06" stroke="#111" stroke-width="1" />
<line x1="309.20" y1="253.28" x2="312.70" y2="253.28" stroke="#111" stroke-width="1" />
<line x1="519.50" y1="253.28" x2="522.20" y2="253.28" stroke="#111" stroke-width="1" />
<text x="306.20" y="255.98" font-size="9" fill="#1a1a1a" stroke="#1a1a1a" stroke-width="0.22" text-anchor="end" >0.8</text>
<text x="417.30" y="421.40" font-size="10.6" fill="#1a1a1a" stroke="#1a1a1a" stroke-width="0.22" text-anchor="middle" >Sorbent mass (mg)</text>
<text x="289.60" y="323.30" font-size="10.5" fill="#1a1a1a" stroke="#1a1a1a" stroke-width="0.22" text-anchor="middle" transform="rotate(-90 289.60 323.30)" >Pressure drop (bar)</text>
<text x="267.60" y="232.40" font-size="15" fill="#111" stroke="#111" stroke-width="0.22" text-anchor="start" >D</text>
</svg>
</body></html>
